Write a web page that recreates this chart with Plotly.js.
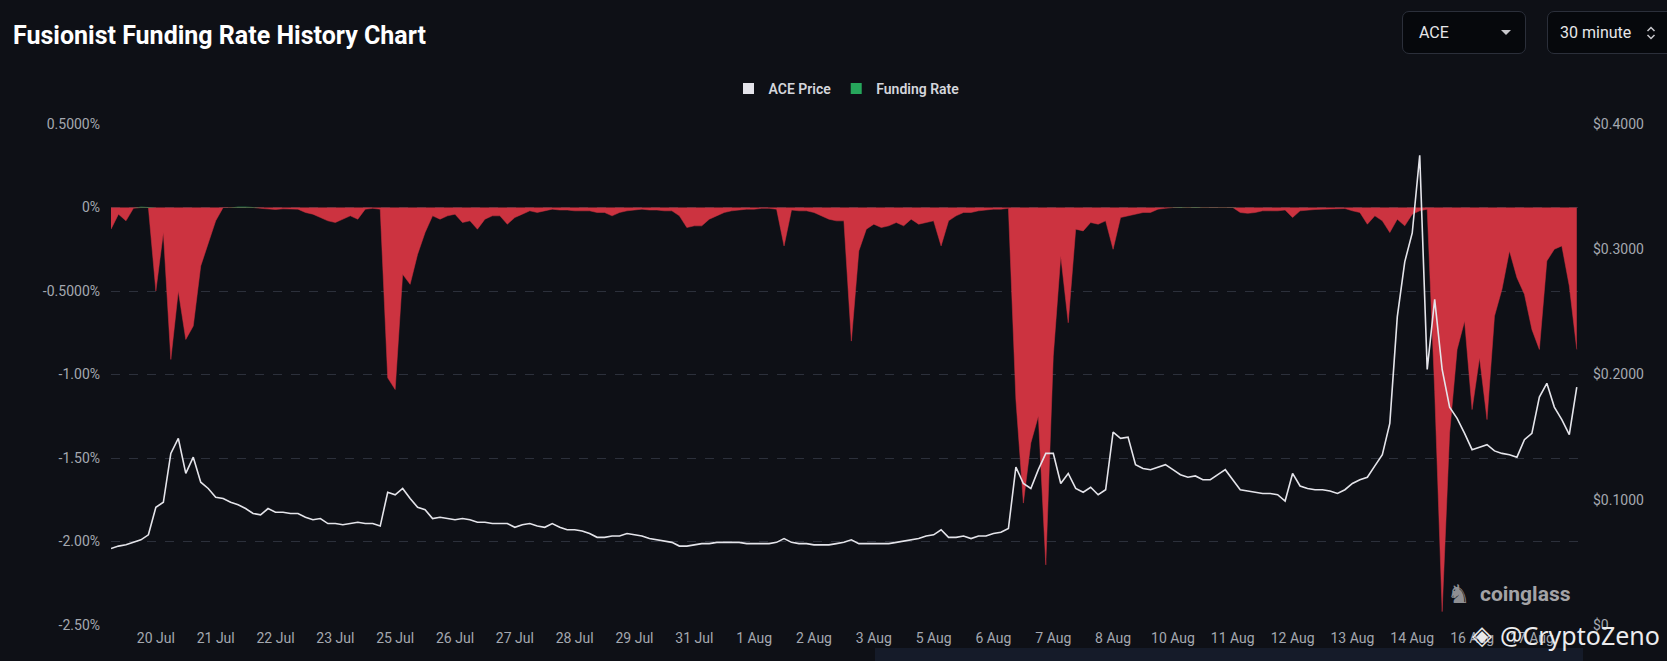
<!DOCTYPE html>
<html>
<head>
<meta charset="utf-8">
<script src="https://cdn.plot.ly/plotly-3.0.1.min.js"></script>
<style>
  html, body { margin:0; padding:0; background:#0e1016; }
  #wrap { position:relative; width:1667px; height:661px; overflow:hidden; background:#0e1016; }
  #chart { position:absolute; left:0; top:0; width:1667px; height:661px; }
  .dd { position:absolute; top:11px; height:43px; box-sizing:border-box; border:1px solid #2b2f3a; border-radius:7px;
        background:#06080c; color:#e6e6e9; font-family:Roboto, sans-serif; font-size:16px; line-height:41px; }
  #dd1 { left:1402px; width:124px; padding-left:16px; }
  #dd1 .caret { position:absolute; right:14px; top:18px; width:0; height:0; border-left:5px solid transparent; border-right:5px solid transparent; border-top:5px solid #c8c8cc; }
  #dd2 { left:1547px; width:130px; padding-left:12px; }
  #dd2 svg { position:absolute; left:98px; top:13px; }
</style>
</head>
<body>
<div id="wrap">
  <div id="chart"></div>
  <div class="dd" id="dd1">ACE<span class="caret"></span></div>
  <div class="dd" id="dd2">30 minute<svg width="10" height="16" viewBox="0 0 10 16"><path d="M1.5 6 L5 2.5 L8.5 6" stroke="#c8c8cc" stroke-width="1.5" fill="none"/><path d="M1.5 10 L5 13.5 L8.5 10" stroke="#c8c8cc" stroke-width="1.5" fill="none"/></svg></div>
</div>
<script>
// ---- data (30-min history resampled; index = sample number) ----
const tickLabels = ["20 Jul","21 Jul","22 Jul","23 Jul","25 Jul","26 Jul","27 Jul","28 Jul","29 Jul","31 Jul","1 Aug","2 Aug","3 Aug","5 Aug","6 Aug","7 Aug","8 Aug","10 Aug","11 Aug","12 Aug","13 Aug","14 Aug","16 Aug","17 Aug"];

// funding rate in %
const fundingRate = [
-0.13,-0.04,-0.08,-0.005,0.005,0.003,-0.50,-0.15,-0.91,-0.50,
-0.79,-0.71,-0.35,-0.21,-0.08,0,0.002,0.004,0.004,0.003,
-0.005,-0.01,-0.012,-0.008,-0.01,-0.01,-0.03,-0.04,-0.06,-0.08,
-0.09,-0.07,-0.05,-0.07,-0.01,-0.005,-0.01,-1.02,-1.09,-0.40,
-0.46,-0.28,-0.15,-0.05,-0.07,-0.05,-0.04,-0.09,-0.08,-0.13,
-0.07,-0.05,-0.05,-0.10,-0.06,-0.04,-0.02,-0.03,-0.02,-0.01,
-0.015,-0.015,-0.02,-0.02,-0.02,-0.03,-0.03,-0.05,-0.03,-0.02,
-0.015,-0.01,-0.015,-0.015,-0.02,-0.02,-0.05,-0.12,-0.11,-0.11,
-0.07,-0.05,-0.03,-0.02,-0.015,-0.01,-0.01,-0.005,-0.005,-0.01,
-0.23,-0.015,-0.02,-0.02,-0.03,-0.05,-0.07,-0.08,-0.08,-0.80,
-0.26,-0.13,-0.10,-0.12,-0.11,-0.09,-0.11,-0.07,-0.10,-0.09,
-0.08,-0.23,-0.08,-0.05,-0.03,-0.03,-0.02,-0.015,-0.01,-0.01,
-0.005,-1.15,-1.77,-1.41,-1.25,-2.14,-0.89,-0.29,-0.69,-0.13,
-0.14,-0.09,-0.10,-0.08,-0.25,-0.06,-0.05,-0.04,-0.03,-0.03,
-0.01,-0.005,0.002,0.003,0.002,0.003,0.002,0.002,0.002,0.002,
0.001,-0.03,-0.035,-0.03,-0.02,-0.02,-0.02,-0.015,-0.06,-0.02,
-0.015,-0.012,-0.01,-0.01,-0.008,-0.006,-0.02,-0.03,-0.10,-0.05,
-0.08,-0.15,-0.07,-0.11,-0.04,-0.02,-0.01,-1.10,-2.42,-1.35,
-0.85,-0.68,-1.21,-0.90,-1.27,-0.65,-0.49,-0.26,-0.42,-0.52,
-0.73,-0.85,-0.32,-0.25,-0.23,-0.47,-0.85
];

// ACE price in USD
const acePrice = [
0.061,0.063,0.064,0.066,0.068,0.072,0.094,0.098,0.137,0.149,
0.121,0.134,0.114,0.109,0.102,0.101,0.098,0.096,0.093,0.089,
0.088,0.093,0.090,0.090,0.089,0.089,0.086,0.084,0.085,0.081,
0.081,0.080,0.081,0.082,0.081,0.081,0.079,0.106,0.104,0.109,
0.101,0.094,0.092,0.085,0.086,0.085,0.084,0.085,0.084,0.082,
0.082,0.081,0.081,0.081,0.078,0.080,0.081,0.079,0.078,0.081,
0.078,0.076,0.076,0.075,0.073,0.070,0.070,0.071,0.071,0.073,
0.072,0.071,0.069,0.068,0.067,0.066,0.063,0.063,0.064,0.065,
0.065,0.066,0.066,0.066,0.066,0.065,0.065,0.065,0.065,0.066,
0.069,0.066,0.065,0.065,0.064,0.064,0.064,0.065,0.066,0.068,
0.065,0.065,0.065,0.065,0.065,0.066,0.067,0.068,0.069,0.071,
0.072,0.076,0.070,0.070,0.071,0.069,0.071,0.071,0.073,0.074,
0.077,0.126,0.113,0.109,0.124,0.137,0.137,0.113,0.121,0.109,
0.106,0.110,0.104,0.108,0.154,0.149,0.150,0.128,0.125,0.124,
0.126,0.128,0.124,0.120,0.118,0.119,0.116,0.116,0.120,0.124,
0.116,0.108,0.107,0.106,0.105,0.105,0.104,0.099,0.121,0.111,
0.109,0.108,0.108,0.107,0.105,0.108,0.113,0.116,0.118,0.127,
0.136,0.161,0.246,0.290,0.313,0.375,0.204,0.260,0.204,0.174,
0.165,0.153,0.140,0.142,0.144,0.139,0.137,0.136,0.134,0.148,
0.153,0.182,0.193,0.174,0.164,0.152,0.190
];

const leftTickVals = [-2.5,-2,-1.5,-1,-0.5,0,0.5];
const leftTickText = ["-2.50%","-2.00%","-1.50%","-1.00%","-0.5000%","0%","0.5000%"];
const rightTickVals = [0,0.1,0.2,0.3,0.4];
const rightTickText = ["$0","$0.1000","$0.2000","$0.3000","$0.4000"];

// ---- build ----
const idx = fundingRate.map((_, i) => i);
const tickPos = tickLabels.map((_, i) => 8 * i + 6);
const negRate = fundingRate.map(v => Math.min(v, 0));
const posRate = fundingRate.map(v => Math.max(v, 0));

const RED = "#cc3340", GREEN = "#26a65b", PRICE = "#e4e4ea";
const FONT = "Roboto, sans-serif";
const TICKFONT = { family: FONT, size: 14, color: "#a4a8b0" };

const traces = [
  { x: idx, y: negRate, type: "scatter", mode: "lines", fill: "tozeroy", fillcolor: RED,
    line: { color: RED, width: 0.5 }, yaxis: "y", showlegend: false, hoverinfo: "skip" },
  { x: idx, y: posRate, type: "scatter", mode: "none", fill: "tozeroy", fillcolor: GREEN,
    yaxis: "y", showlegend: false, hoverinfo: "skip" },
  { x: idx, y: acePrice, type: "scatter", mode: "lines", line: { color: PRICE, width: 1.6 },
    yaxis: "y2", showlegend: false, hoverinfo: "skip" },
  // legend entries
  { x: [null], y: [null], type: "scatter", mode: "markers", name: "ACE Price",
    marker: { symbol: "square", size: 11, color: PRICE }, yaxis: "y2" },
  { x: [null], y: [null], type: "scatter", mode: "markers", name: "Funding Rate",
    marker: { symbol: "square", size: 11, color: GREEN }, yaxis: "y" }
];

const layout = {
  width: 1667, height: 661,
  paper_bgcolor: "#0e1016", plot_bgcolor: "#0e1016",
  margin: { l: 111, r: 85, t: 124, b: 36 },
  font: { family: FONT, color: "#a4a8b0", size: 14 },
  title: { text: "<b>Fusionist Funding Rate History Chart</b>", x: 13/1667, xref: "container", xanchor: "left",
           y: 1 - 35/661, yref: "container", yanchor: "middle",
           font: { family: FONT, size: 25, color: "#ffffff" } },
  showlegend: true,
  legend: { orientation: "h", x: 0.5, xanchor: "center", y: 1.07, yanchor: "middle",
            font: { family: FONT, size: 14, color: "#d4d6dc", weight: 600 },
            bgcolor: "rgba(0,0,0,0)", itemwidth: 30, traceorder: "normal" },
  xaxis: { range: [0, 196.7], tickmode: "array", tickvals: tickPos, ticktext: tickLabels,
           showgrid: false, zeroline: false, showline: false, ticks: "",
           tickfont: TICKFONT, ticklabelstandoff: 3, fixedrange: true },
  yaxis: { range: [-2.5, 0.5], tickmode: "array", tickvals: leftTickVals, ticktext: leftTickText,
           showgrid: true, gridcolor: "#2c303b", griddash: "dash", gridwidth: 1,
           zeroline: false, showline: false, ticks: "", ticklabelstandoff: 10, tickfont: TICKFONT },
  yaxis2: { range: [0, 0.4], overlaying: "y", side: "right", tickmode: "array",
            tickvals: rightTickVals, ticktext: rightTickText, showgrid: false, zeroline: false,
            showline: false, ticks: "", ticklabelstandoff: 10, tickfont: TICKFONT },
  shapes: [
    { type: "rect", xref: "paper", yref: "paper", x0: (875-111)/1471, x1: (1583-111)/1471,
      y0: (625-661)/501, y1: (625-648)/501, fillcolor: "#151b29", line: { width: 0 }, layer: "below" }
  ],
  annotations: [
    { text: "<b>coinglass</b>", xref: "paper", yref: "paper", x: (1478-111)/1471, y: (625-594)/501,
      xanchor: "left", yanchor: "middle", showarrow: false,
      font: { family: FONT, size: 21, color: "#a3a3a6" } },
    { text: "♞", xref: "paper", yref: "paper", x: (1458-111)/1471, y: (625-594)/501,
      xanchor: "center", yanchor: "middle", showarrow: false,
      font: { family: "DejaVu Sans", size: 26, color: "#8f8f93" } },
    { text: "◈", xref: "paper", yref: "paper", x: (1482-111)/1471, y: (625-635)/501,
      xanchor: "center", yanchor: "middle", showarrow: false,
      font: { family: "DejaVu Sans", size: 26, color: "#e8e8ea" } },
    { text: "@CryptoZeno", xref: "paper", yref: "paper", x: (1498-111)/1471, y: (625-635)/501,
      xanchor: "left", yanchor: "middle", showarrow: false,
      font: { family: "Noto Sans", size: 25, color: "#ececee" } }
  ]
};

Plotly.newPlot("chart", traces, layout, { staticPlot: true, displayModeBar: false });
</script>
</body>
</html>
